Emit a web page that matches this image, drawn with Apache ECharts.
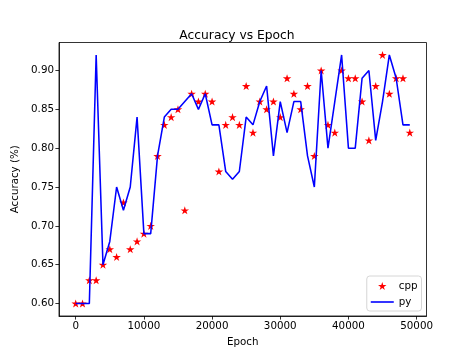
<!DOCTYPE html>
<html>
<head>
<meta charset="utf-8">
<script src="https://cdn.jsdelivr.net/npm/echarts@6/dist/echarts.min.js"></script>
<style>html,body{margin:0;padding:0;background:#fff}#c{width:474px;height:355px}</style>
</head>
<body>
<div id="c"></div>
<script>
const epochs = [0,1000,2000,3000,4000,5000,6000,7000,8000,9000,10000,11000,12000,13000,14000,15000,16000,17000,18000,19000,20000,21000,22000,23000,24000,25000,26000,27000,28000,29000,30000,31000,32000,33000,34000,35000,36000,37000,38000,39000,40000,41000,42000,43000,44000,45000,46000,47000,48000,49000];
const cppValues = [0.60,0.60,0.63,0.63,0.65,0.67,0.66,0.73,0.67,0.68,0.69,0.70,0.79,0.83,0.84,0.85,0.72,0.87,0.86,0.87,0.86,0.77,0.83,0.84,0.83,0.88,0.82,0.86,0.85,0.86,0.84,0.89,0.87,0.85,0.88,0.79,0.90,0.83,0.82,0.90,0.89,0.89,0.86,0.81,0.88,0.92,0.87,0.89,0.89,0.82];
const pyValues = [0.60,0.60,0.60,0.92,0.65,0.68,0.75,0.72,0.75,0.84,0.69,0.69,0.79,0.84,0.85,0.85,0.86,0.87,0.85,0.87,0.83,0.83,0.77,0.76,0.77,0.84,0.83,0.86,0.88,0.79,0.86,0.82,0.86,0.86,0.79,0.75,0.90,0.80,0.86,0.92,0.80,0.80,0.89,0.90,0.81,0.86,0.92,0.89,0.83,0.83];
const xTicks = [0,10000,20000,30000,40000,50000];
const yTicks = [0.60,0.65,0.70,0.75,0.80,0.85,0.90];

const star = 'path://M0,-1 L0.2245,-0.309 L0.951,-0.309 L0.363,0.118 L0.588,0.809 L0,0.382 L-0.588,0.809 L-0.363,0.118 L-0.951,-0.309 L-0.2245,-0.309 Z';
const lineIcon = 'path://M0,0 L23,0 L23,1.6 L0,1.6 Z';
const font = 'DejaVu Sans';
const chart = echarts.init(document.getElementById('c'), null, {renderer:'canvas'});
chart.setOption({
  animation:false,
  backgroundColor:'#fff',
  title:{text:'Accuracy vs Epoch',left:'center',top:25,textStyle:{fontFamily:font,fontSize:12.3,fontWeight:'normal',color:'#000'}},
  grid:{left:59,right:47.5,top:42.5,bottom:39,show:true,borderColor:'#000',borderWidth:0.8,backgroundColor:'transparent'},
  legend:{
    right:52.5,bottom:44,orient:'vertical',
    backgroundColor:'rgba(255,255,255,0.8)',borderColor:'#ccc',borderWidth:0.8,borderRadius:3,
    padding:[5,4,4,4],itemGap:6,itemWidth:23,itemHeight:8,
    textStyle:{fontFamily:font,fontSize:10.3,color:'#000'},
    data:[{name:'cpp',icon:star},{name:'py',icon:lineIcon}]
  },
  xAxis:{
    type:'value',min:-2450,max:51450,
    name:'Epoch',nameLocation:'middle',nameGap:21,
    nameTextStyle:{fontFamily:font,fontSize:10.3,color:'#000'},
    axisLine:{show:true,onZero:false,lineStyle:{color:'#000',width:0.8}},
    axisTick:{show:true,length:3.6,lineStyle:{color:'#000',width:0.8},customValues:xTicks},
    axisLabel:{fontFamily:font,fontSize:10.3,color:'#000',margin:5,customValues:xTicks,formatter:v=>String(v)},
    splitLine:{show:false}
  },
  yAxis:{
    type:'value',min:0.584,max:0.936,
    name:'Accuracy (%)',nameLocation:'middle',nameGap:35,
    nameTextStyle:{fontFamily:font,fontSize:10.3,color:'#000'},
    axisLine:{show:true,onZero:false,lineStyle:{color:'#000',width:0.8}},
    axisTick:{show:true,length:3.6,lineStyle:{color:'#000',width:0.8},customValues:yTicks},
    axisLabel:{fontFamily:font,fontSize:10.3,color:'#000',margin:5,customValues:yTicks,formatter:v=>v.toFixed(2)},
    splitLine:{show:false}
  },
  series:[
    {name:'cpp',type:'scatter',data:epochs.map((e,i)=>[e,cppValues[i]]),symbol:star,symbolSize:8.5,symbolKeepAspect:true,itemStyle:{color:'#ff0000',opacity:1},z:2},
    {name:'py',type:'line',data:epochs.map((e,i)=>[e,pyValues[i]]),symbol:'none',showSymbol:false,lineStyle:{color:'#0000ff',width:1.55},itemStyle:{color:'#0000ff'},z:3}
  ]
});
</script>
</body>
</html>
